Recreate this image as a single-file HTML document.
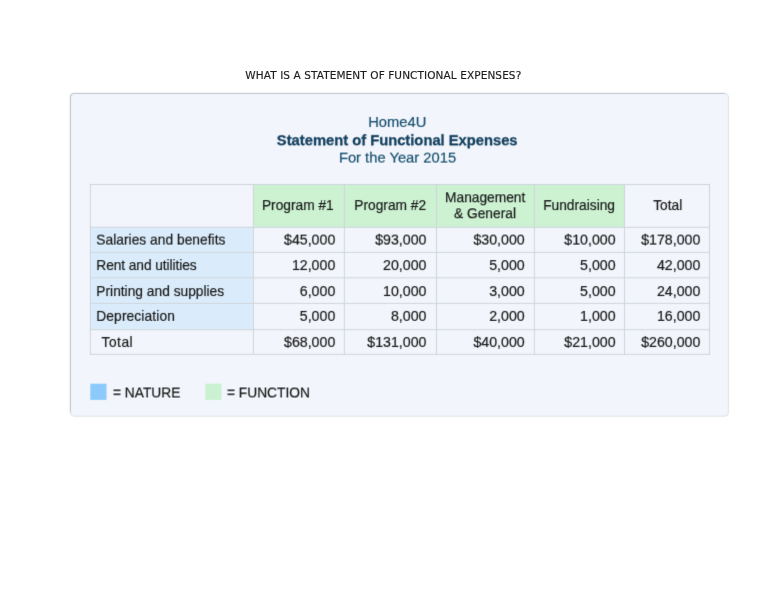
<!DOCTYPE html>
<html lang="en"><head><meta charset="utf-8"><title>What is a Statement of Functional Expenses?</title>
<style>
html,body{margin:0;padding:0;background:#fff;}
body{width:768px;height:594px;overflow:hidden;position:relative;font-family:"Liberation Sans",sans-serif;}
svg{position:absolute;left:0;top:0;display:block}
svg text{font-family:"Liberation Sans",sans-serif;}
.t{font-size:13.75px;fill:#1a1a1a;stroke:#1a1a1a;stroke-width:0.2px}
.n{font-size:14.2px}
.h{font-size:14.75px;fill:#185070;stroke:#185070;stroke-width:0.2px}
.title{font-family:"DejaVu Sans",sans-serif;font-size:10.5px;letter-spacing:0.1px;fill:#1c1c1c;stroke:#1c1c1c;stroke-width:0.15px}
</style></head><body>
<svg width="768" height="594" viewBox="0 0 768 594">
<defs>
<filter id="s0" x="60" y="86" width="680" height="340" filterUnits="userSpaceOnUse" color-interpolation-filters="sRGB"><feConvolveMatrix order="3 5" targetX="1" targetY="2" kernelMatrix="0 0 0 0.0113 0.0838 0.0113 0.0838 0.6194 0.0838 0.0113 0.0838 0.0113 0 0 0" edgeMode="none" preserveAlpha="false"/></filter>
<filter id="sm5" x="60" y="86" width="680" height="340" filterUnits="userSpaceOnUse" color-interpolation-filters="sRGB"><feConvolveMatrix order="3 5" targetX="1" targetY="2" kernelMatrix="0 0 0 0.0532 0.3935 0.0532 0.0532 0.3935 0.0532 0 0 0 0 0 0" edgeMode="none" preserveAlpha="false"/></filter>
<filter id="sm4" x="60" y="86" width="680" height="340" filterUnits="userSpaceOnUse" color-interpolation-filters="sRGB"><feConvolveMatrix order="3 5" targetX="1" targetY="2" kernelMatrix="0 0 0 0.0426 0.3148 0.0426 0.0639 0.4722 0.0639 0 0 0 0 0 0" edgeMode="none" preserveAlpha="false"/></filter>
<filter id="sm1" x="60" y="86" width="680" height="340" filterUnits="userSpaceOnUse" color-interpolation-filters="sRGB"><feConvolveMatrix order="3 5" targetX="1" targetY="2" kernelMatrix="0.0007 0.0048 0.0007 0.0152 0.1126 0.0152 0.0847 0.626 0.0847 0.0059 0.0436 0.0059 0 0 0" edgeMode="none" preserveAlpha="false"/></filter>
<filter id="s1" x="60" y="86" width="680" height="340" filterUnits="userSpaceOnUse" color-interpolation-filters="sRGB"><feConvolveMatrix order="3 5" targetX="1" targetY="2" kernelMatrix="0 0 0 0.0059 0.0436 0.0059 0.0847 0.626 0.0847 0.0152 0.1126 0.0152 0.0007 0.0048 0.0007" edgeMode="none" preserveAlpha="false"/></filter>
<filter id="s3" x="60" y="86" width="680" height="340" filterUnits="userSpaceOnUse" color-interpolation-filters="sRGB"><feConvolveMatrix order="3 5" targetX="1" targetY="2" kernelMatrix="0 0 0 0.0001 0.0008 0.0001 0.0744 0.5496 0.0744 0.032 0.2362 0.032 0 0.0004 0" edgeMode="none" preserveAlpha="false"/></filter>
</defs>
<text class="title" x="383.3" y="79" text-anchor="middle">WHAT IS A STATEMENT OF FUNCTIONAL EXPENSES?</text>
<g filter="url(#s0)">
<rect x="60" y="86" width="680" height="340" fill="#fff"/>
<rect x="70.4" y="93.4" width="658" height="322.8" rx="3.5" ry="3.5" fill="#f2f5fb" stroke="#dde1e6" stroke-width="1"/>
<path d="M70.4 412.2 V96.9 a3.5 3.5 0 0 1 3.5 -3.5 H725" fill="none" stroke="#bcc3ca" stroke-width="1"/>
<rect x="253.4" y="184.5" width="371.1" height="42.8" fill="#ccf2d2"/>
<rect x="90.4" y="227.3" width="163" height="102.4" fill="#daecfb"/>
<line x1="90.4" y1="184" x2="90.4" y2="354.8" stroke="#cfd4da" stroke-width="1"/>
<line x1="253.4" y1="184" x2="253.4" y2="354.8" stroke="#cfd4da" stroke-width="1"/>
<line x1="344.4" y1="184" x2="344.4" y2="354.8" stroke="#cfd4da" stroke-width="1"/>
<line x1="436.5" y1="184" x2="436.5" y2="354.8" stroke="#cfd4da" stroke-width="1"/>
<line x1="534.4" y1="184" x2="534.4" y2="354.8" stroke="#cfd4da" stroke-width="1"/>
<line x1="624.5" y1="184" x2="624.5" y2="354.8" stroke="#cfd4da" stroke-width="1"/>
<line x1="709.5" y1="184" x2="709.5" y2="354.8" stroke="#cfd4da" stroke-width="1"/>
<line x1="89.9" y1="184.5" x2="710" y2="184.5" stroke="#cfd4da" stroke-width="1"/>
<line x1="89.9" y1="227.3" x2="710" y2="227.3" stroke="#cfd4da" stroke-width="1"/>
<line x1="89.9" y1="252.4" x2="710" y2="252.4" stroke="#cfd4da" stroke-width="1"/>
<line x1="89.9" y1="277.8" x2="710" y2="277.8" stroke="#cfd4da" stroke-width="1"/>
<line x1="89.9" y1="303.4" x2="710" y2="303.4" stroke="#cfd4da" stroke-width="1"/>
<line x1="89.9" y1="329.7" x2="710" y2="329.7" stroke="#cfd4da" stroke-width="1"/>
<line x1="89.9" y1="354.3" x2="710" y2="354.3" stroke="#cfd4da" stroke-width="1"/>
<rect x="90.3" y="383.7" width="16.2" height="16.2" fill="#8ccafb"/>
<rect x="205.3" y="383.7" width="16.2" height="16.2" fill="#caf1d1"/>
</g>
<g filter="url(#sm5)">
<text class="t" x="113" y="398">= NATURE</text>
<text class="t" x="227" y="398">= FUNCTION</text>
</g>
<g filter="url(#sm4)">
<text class="h" transform="translate(397.5,163) scale(1,0.97)" text-anchor="middle">For the Year 2015</text>
<text class="t" x="96.3" y="245" style="letter-spacing:0.035px;">Salaries and benefits</text>
<text class="t n" x="335.3" y="245" text-anchor="end">$45,000</text>
<text class="t n" x="426.5" y="245" text-anchor="end">$93,000</text>
<text class="t n" x="524.7" y="245" text-anchor="end">$30,000</text>
<text class="t n" x="615.6" y="245" text-anchor="end">$10,000</text>
<text class="t n" x="700.4" y="245" text-anchor="end">$178,000</text>
</g>
<g filter="url(#sm1)">
<text class="t" x="96.3" y="321" style="letter-spacing:0.125px;">Depreciation</text>
<text class="t n" x="335.3" y="321" text-anchor="end">5,000</text>
<text class="t n" x="426.5" y="321" text-anchor="end">8,000</text>
<text class="t n" x="524.7" y="321" text-anchor="end">2,000</text>
<text class="t n" x="615.6" y="321" text-anchor="end">1,000</text>
<text class="t n" x="700.4" y="321" text-anchor="end">16,000</text>
</g>
<g filter="url(#s0)">
<text class="h" transform="translate(397.2,127) scale(1,0.97)" text-anchor="middle">Home4U</text>
<text class="t" x="101.6" y="347" style="letter-spacing:0.5px;">Total</text>
<text class="t n" x="335.3" y="347" text-anchor="end">$68,000</text>
<text class="t n" x="426.5" y="347" text-anchor="end">$131,000</text>
<text class="t n" x="524.7" y="347" text-anchor="end">$40,000</text>
<text class="t n" x="615.6" y="347" text-anchor="end">$21,000</text>
<text class="t n" x="700.4" y="347" text-anchor="end">$260,000</text>
</g>
<g filter="url(#s1)">
<text class="t" x="297.8" y="210" text-anchor="middle">Program #1</text>
<text class="t" x="390.2" y="210" text-anchor="middle">Program #2</text>
<text class="t" x="579.1" y="210" text-anchor="middle">Fundraising</text>
<text class="t" x="667.7" y="210" text-anchor="middle">Total</text>
<text class="t" x="96.3" y="270" style="letter-spacing:-0.075px;">Rent and utilities</text>
<text class="t n" x="335.3" y="270" text-anchor="end">12,000</text>
<text class="t n" x="426.5" y="270" text-anchor="end">20,000</text>
<text class="t n" x="524.7" y="270" text-anchor="end">5,000</text>
<text class="t n" x="615.6" y="270" text-anchor="end">5,000</text>
<text class="t n" x="700.4" y="270" text-anchor="end">42,000</text>
<text class="t" x="96.3" y="296" style="letter-spacing:0.01px;">Printing and supplies</text>
<text class="t n" x="335.3" y="296" text-anchor="end">6,000</text>
<text class="t n" x="426.5" y="296" text-anchor="end">10,000</text>
<text class="t n" x="524.7" y="296" text-anchor="end">3,000</text>
<text class="t n" x="615.6" y="296" text-anchor="end">5,000</text>
<text class="t n" x="700.4" y="296" text-anchor="end">24,000</text>
</g>
<g filter="url(#s3)">
<text class="h" transform="translate(397.2,145) scale(1,0.97)" text-anchor="middle" style="font-weight:bold;fill:#123f5e;stroke:#123f5e;stroke-width:0.3px;">Statement of Functional Expenses</text>
<text class="t" x="485.2" y="202" text-anchor="middle">Management</text>
<text class="t" x="485" y="218" text-anchor="middle">&amp; General</text>
</g>
</svg>
</body></html>
